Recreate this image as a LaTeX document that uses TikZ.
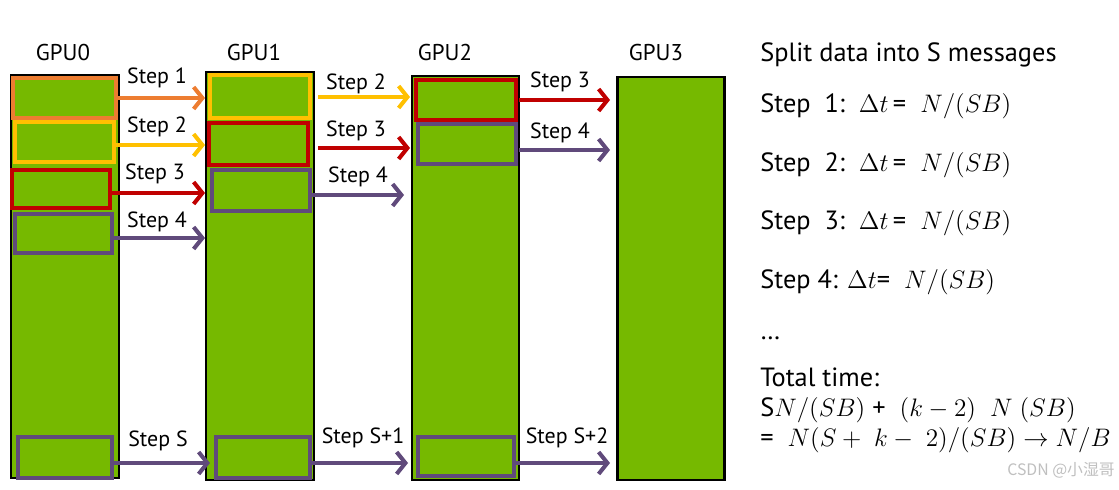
\documentclass[tikz,border=0pt]{standalone}
\usepackage{fontspec}
\setmainfont{PT Sans}
\newfontfamily\cjk{Noto Sans CJK SC}
\usetikzlibrary{arrows.meta}
\definecolor{gr}{HTML}{76B900}
\definecolor{orA}{HTML}{ED7D31}
\definecolor{yeA}{HTML}{FFC000}
\definecolor{reA}{HTML}{C00000}
\definecolor{puA}{HTML}{604A7B}
\begin{document}
\begin{tikzpicture}[x=0.02cm,y=-0.02cm,
 gpu/.style={draw=black,fill=gr,line width=1.7pt},
 chunk/.style={draw=#1,line width=2.8pt},
 arr/.style={draw=#1,line width=2.3pt,-{Straight Barb[length=5pt,width=12.5pt]}},
 lab/.style={font=\fontsize{12.5}{12.5}\selectfont,inner sep=0pt},
 gl/.style={font=\fontsize{13}{13}\selectfont,inner sep=0pt},
 rt/.style={font=\fontsize{15}{15}\selectfont,anchor=west,inner sep=0pt}]
\useasboundingbox (0,0) rectangle (1119,490);
\draw[gpu] (11,75) rectangle (119,478);
\draw[gpu] (206,72) rectangle (314,480);
\draw[gpu] (412,76) rectangle (519,480);
\draw[gpu] (617,77) rectangle (724,480);
\node[gl] (g0) at (63,53) {GPU0};
\node[gl] (g1) at (254,53) {GPU1};
\node[gl] (g2) at (445,53) {GPU2};
\node[gl] (g3) at (656,53) {GPU3};
% GPU0 chunks
\draw[chunk=orA] (13,78) rectangle (116,118);
\draw[chunk=yeA] (15,122) rectangle (114,162);
\draw[chunk=reA] (12,170) rectangle (110,208);
\draw[chunk=puA] (15,214) rectangle (112,253);
\draw[chunk=puA] (18,437) rectangle (112,478);
% GPU1
\draw[chunk=yeA] (210,75) rectangle (310,118);
\draw[chunk=reA] (209,123) rectangle (308,165);
\draw[chunk=puA] (212,170) rectangle (310,211);
\draw[chunk=puA] (216,437) rectangle (310,478);
% GPU2
\draw[chunk=reA] (416,80) rectangle (516,120);
\draw[chunk=puA] (418,124) rectangle (516,164);
\draw[chunk=puA] (418,437) rectangle (514,476);
% coordinates
\coordinate (a1s) at (116,98); \coordinate (a1e) at (205,98);
\coordinate (a2s) at (114,145); \coordinate (a2e) at (205,145);
\coordinate (a3s) at (110,193); \coordinate (a3e) at (205,193);
\coordinate (a4s) at (112,238); \coordinate (a4e) at (205,238);
\coordinate (a5s) at (112,463); \coordinate (a5e) at (210,463);
\coordinate (b1s) at (318,97); \coordinate (b1e) at (410,97);
\coordinate (b2s) at (318,148); \coordinate (b2e) at (410,148);
\coordinate (b3s) at (310,195); \coordinate (b3e) at (404,195);
\coordinate (b5s) at (310,463); \coordinate (b5e) at (408,463);
\coordinate (c1s) at (519,100); \coordinate (c1e) at (610,100);
\coordinate (c2s) at (519,150); \coordinate (c2e) at (610,150);
\coordinate (c5s) at (514,463); \coordinate (c5e) at (610,463);
\draw[arr=orA] (a1s) -- (a1e);
\draw[arr=yeA] (a2s) -- (a2e);
\draw[arr=reA] (a3s) -- (a3e);
\draw[arr=puA] (a4s) -- (a4e);
\draw[arr=puA] (a5s) -- (a5e);
\draw[arr=yeA] (b1s) -- (b1e);
\draw[arr=reA] (b2s) -- (b2e);
\draw[arr=puA] (b3s) -- (b3e);
\draw[arr=puA] (b5s) -- (b5e);
\draw[arr=reA] (c1s) -- (c1e);
\draw[arr=puA] (c2s) -- (c2e);
\draw[arr=puA] (c5s) -- (c5e);
\node[lab] (l1) at (157,78) {Step 1};
\node[lab] (l2) at (157,127) {Step 2};
\node[lab] (l3) at (155,174) {Step 3};
\node[lab] (l4) at (157,222) {Step 4};
\node[lab] (l5) at (158,441) {Step S};
\node[lab] (m1) at (356,84) {Step 2};
\node[lab] (m2) at (356,131) {Step 3};
\node[lab] (m3) at (358,177) {Step 4};
\node[lab] (m5) at (363,438) {Step S+1};
\node[lab] (n1) at (560,82) {Step 3};
\node[lab] (n2) at (560,133) {Step 4};
\node[lab] (n5) at (567,438) {Step S+2};
% right text
\node[rt] (t0) at (760,55) {Split data into S messages};
\node[rt] (t1) at (760,106) {Step\ \ 1:\ \ $\Delta t$\,=\ \ $N/(SB)$};
\node[rt] (t2) at (760,165) {Step\ \ 2:\ \ $\Delta t$\,=\ \ $N/(SB)$};
\node[rt] (t3) at (760,223) {Step\ \ 3:\ \ $\Delta t$\,=\ \ $N/(SB)$};
\node[rt] (t4) at (760,282) {Step 4: $\Delta t$= \ $N/(SB)$};
\node[rt] (t5) at (760,338) {\dots};
\node[rt] (t6) at (760,377) {Total time:};
\node[rt] (t7) at (760,410) {S$N/(SB)$ +\ \ $(k-2)$ \ $N$ $(SB)$};
\node[rt] (t8) at (760,440) {= \ $N(S+\ k-\ 2)/(SB)\rightarrow N/B$};
\node[font=\cjk\fontsize{9}{9}\selectfont,text=black!25,anchor=east,inner sep=0pt] (wm) at (1115,470) {CSDN @小湿哥};
\end{tikzpicture}
\end{document}
